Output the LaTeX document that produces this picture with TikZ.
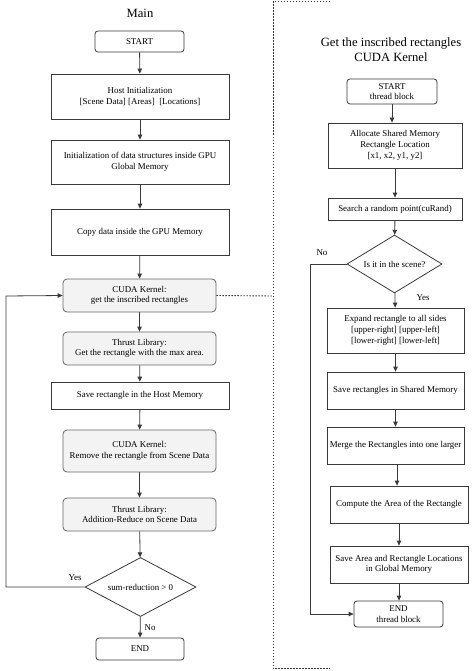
\documentclass[tikz,border=0pt]{standalone}
\usepackage{fontspec}
\setmainfont{Liberation Serif}
\usetikzlibrary{shapes.geometric,arrows.meta}
\definecolor{linec}{HTML}{3A3A3A}
\definecolor{grayfill}{HTML}{F3F3F3}
\definecolor{grayline}{HTML}{666666}
\begin{document}
\begin{tikzpicture}[x=1pt,y=-1pt,
  every node/.style={font=\fontsize{8.9}{10.7}\selectfont, align=center, inner sep=1pt},
  box/.style={draw=linec, line width=0.8pt, fill=white},
  rbox/.style={box, rounded corners=3pt},
  gbox/.style={draw=grayline, line width=0.8pt, fill=grayfill, rounded corners=4pt},
  dec/.style={diamond, draw=linec, line width=0.8pt, inner sep=0pt, aspect=1.9},
  conn/.style={draw=linec, line width=0.8pt, -{Triangle[length=5pt,width=4.5pt]}},
  plain/.style={draw=linec, line width=0.8pt},
  dots/.style={draw=linec, line width=0.9pt, dash pattern=on 1.5pt off 1.5pt},
  titlef/.style={font=\fontsize{12.6}{15}\selectfont}
]
\useasboundingbox (0,0) rectangle (474,671);
% left column
\node[titlef] (tmain) at (140,13) {Main};
\node[rbox, minimum width=89pt, minimum height=21pt] (start) at (139.5,41.5) {START};
\node[box, minimum width=178pt, minimum height=45pt] (host) at (140,96.5) {Host Initialization\\{}[Scene Data] [Areas]\ \ [Locations]};
\node[box, minimum width=178pt, minimum height=44pt] (initgpu) at (140,162) {Initialization of data structures inside GPU\\Global Memory};
\node[box, minimum width=178pt, minimum height=46pt] (copy) at (140,232) {Copy data inside the GPU Memory};
\node[gbox, minimum width=153pt, minimum height=33pt] (cuda1) at (139.5,295.5) {CUDA Kernel:\\get the inscribed rectangles};
\node[gbox, minimum width=153pt, minimum height=33pt] (thrust1) at (139.5,348.5) {Thrust Library:\\Get the rectangle with the max area.};
\node[box, minimum width=178pt, minimum height=27pt] (save) at (140,395.5) {Save rectangle in the Host Memory};
\node[gbox, minimum width=153pt, minimum height=42pt] (cuda2) at (139.5,451) {CUDA Kernel:\\Remove the rectangle from Scene Data};
\node[gbox, minimum width=153pt, minimum height=33pt] (thrust2) at (139.5,514.5) {Thrust Library:\\Addition-Reduce on Scene Data};
\node[dec, minimum width=111pt, minimum height=59pt] (sum) at (140.5,587) {sum-reduction > 0};
\node[rbox, minimum width=88pt, minimum height=22pt] (end) at (140,649) {END};
\coordinate (lbot) at (6,587);
\coordinate (ltop) at (6,296);
\coordinate (dotend) at (273,296);

\draw[conn] (start) -- (host);
\draw[conn] (host) -- (initgpu);
\draw[conn] (initgpu) -- (copy);
\draw[conn] (copy) -- (cuda1);
\draw[conn] (cuda1) -- (thrust1);
\draw[conn] (thrust1) -- (save);
\draw[conn] (save) -- (cuda2);
\draw[conn] (cuda2) -- (thrust2);
\draw[conn] (thrust2) -- (sum);
\draw[conn] (sum) -- node[right, xshift=3pt] {No} (end);
\draw[conn] (sum.west) -- (lbot) -- (ltop) -- (cuda1.west);
\node (yes1) at (75,578) {Yes};
\draw[dots] (cuda1.east) -- (dotend);

% dotted frame
\coordinate (ftl) at (273,1.5);
\coordinate (ftr) at (330,1.5);
\coordinate (fbl) at (273,668.5);
\coordinate (fbr) at (330,668.5);
\draw[dots] (ftr) -- (ftl) -- (fbl) -- (fbr);

% right column
\node[titlef] (tk) at (391,49.5) {Get the inscribed rectangles\\CUDA Kernel};
\node[rbox, minimum width=90pt, minimum height=25pt] (start2) at (392,91.5) {START\\thread block};
\node[box, minimum width=134pt, minimum height=45pt] (alloc) at (395,145.5) {Allocate Shared Memory\\Rectangle Location\\{}[x1, x2, y1, y2]};
\node[box, minimum width=134pt, minimum height=22pt] (search) at (395,209) {Search a random point(cuRand)};
\node[dec, minimum width=95pt, minimum height=58pt] (inscene) at (394.5,264) {Is it in the scene?};
\node[box, minimum width=137pt, minimum height=45pt] (expand) at (395.5,330.5) {Expand rectangle to all sides\\{}[upper-right] [upper-left]\\{}[lower-right] [lower-left]};
\node[box, minimum width=137pt, minimum height=37pt] (saveshared) at (395.5,390.5) {Save rectangles in Shared Memory};
\node[box, minimum width=137pt, minimum height=37pt] (merge) at (395.5,445.5) {Merge the Rectangles into one larger};
\node[box, minimum width=138pt, minimum height=37pt] (compute) at (399,504.5) {Compute the Area of the Rectangle};
\node[box, minimum width=138pt, minimum height=37pt] (savearea) at (399,564.5) {Save Area and Rectangle Locations\\in Global Memory};
\node[rbox, minimum width=89pt, minimum height=26pt] (end2) at (398.5,614) {END\\thread block};
\coordinate (ntop) at (310,264);
\coordinate (nbot) at (310,614);

\draw[conn] (start2.south) -- (start2.south |- alloc.north);
\draw[conn] (alloc) -- (search);
\draw[conn] (search) -- (inscene);
\draw[conn] (inscene) -- (expand);
\node (yes2) at (423,298) {Yes};
\draw[conn] (expand) -- (saveshared);
\draw[conn] (saveshared) -- (merge);
\draw[conn] ([xshift=1.5pt]merge.south) -- ([xshift=1.5pt]merge.south |- compute.north);
\draw[conn] (compute) -- (savearea);
\draw[conn] (savearea.south) -- (savearea.south |- end2.north);
\draw[conn] (inscene.west) -- (ntop) -- (nbot) -- (end2.west);
\node (no2) at (322,253) {No};
\end{tikzpicture}
\end{document}
